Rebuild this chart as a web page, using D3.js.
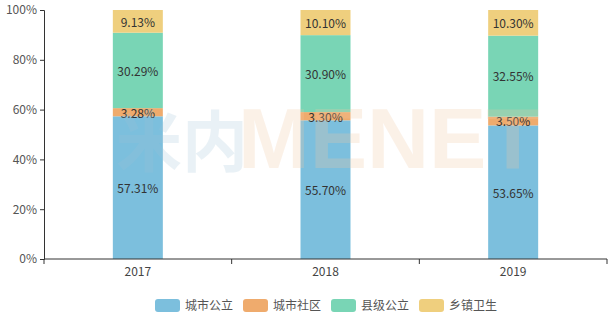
<!DOCTYPE html>
<html>
<head>
<meta charset="utf-8">
<script src="https://cdn.jsdelivr.net/npm/d3@7"></script>
<style>
  body { margin: 0; background: #fff; }
  svg text { font-family: "Noto Sans CJK SC", "Open Sans", sans-serif; }
</style>
</head>
<body>
<svg id="chart" width="615" height="319"></svg>
<script>
var years = ['2017', '2018', '2019'];
var seriesNames = ['城市公立', '城市社区', '县级公立', '乡镇卫生'];
var cityPublic = [57.31, 55.70, 53.65];
var cityCommunity = [3.28, 3.30, 3.50];
var countyPublic = [30.29, 30.90, 32.55];
var townHealth = [9.13, 10.10, 10.30];
var yTicks = [0, 20, 40, 60, 80, 100];
var colors = ['#7cbfdd', '#efab6d', '#79d5b5', '#efcf7e'];

var svg = d3.select('#chart')
  , margin = { left: 44, right: 8, top: 10, bottom: 60 }
  , width = 615 - margin.left - margin.right
  , height = 319 - margin.top - margin.bottom;

var x = d3.scaleBand().domain(years).range([0, width]);
var y = d3.scaleLinear().domain([0, 100]).range([height, 0]);

var g = svg.append('g').attr('transform', 'translate(' + margin.left + ',' + margin.top + ')');

var rows = years.map(function(yr, i) {
  return { year: yr, s0: cityPublic[i], s1: cityCommunity[i], s2: countyPublic[i], s3: townHealth[i] };
});
var stack = d3.stack().keys(['s0', 's1', 's2', 's3']);
var layers = stack(rows);
var barW = 50;

var layer = g.selectAll('g.layer')
  .data(layers)
  .enter().append('g')
    .attr('class', 'layer')
    .style('fill', function(d, i) { return colors[i]; });

layer.selectAll('rect')
  .data(function(d) { return d; })
  .enter().append('rect')
    .attr('x', function(d) { return x(d.data.year) + x.bandwidth() / 2 - barW / 2; })
    .attr('width', barW)
    .attr('y', function(d) { return y(Math.min(d[1], 100)); })
    .attr('height', function(d) { return y(d[0]) - y(Math.min(d[1], 100)); });

// watermark, drawn over the bars like in the source image
svg.append('text')
  .attr('x', 116).attr('y', 166)
  .style('font-size', '66px').style('font-weight', 'bold')
  .style('fill', '#9fc3d8').style('opacity', 0.22)
  .text('米内');
svg.append('text')
  .attr('x', 238).attr('y', 168)
  .style('font-size', '86px').style('font-weight', 'bold')
  .style('font-family', 'Liberation Sans, sans-serif')
  .style('fill', '#f3c9a4').style('opacity', 0.25)
  .text('MENET');

var labels = g.append('g');
layers.forEach(function(l) {
  labels.selectAll(null)
    .data(l)
    .enter().append('text')
      .attr('x', function(d) { return x(d.data.year) + x.bandwidth() / 2; })
      .attr('y', function(d) { return (y(d[0]) + y(Math.min(d[1], 100))) / 2 + 1; })
      .attr('dy', '0.36em')
      .attr('text-anchor', 'middle')
      .style('fill', '#333')
      .style('font-size', '12px')
      .text(function(d) { return (d[1] - d[0]).toFixed(2) + '%'; });
});

// axes
var yAxis = d3.axisLeft(y).tickValues(yTicks).tickSize(4).tickFormat(function(d) { return d + '%'; });
var ya = g.append('g').call(yAxis);
ya.select('.domain').attr('stroke', '#333');
ya.selectAll('line').attr('stroke', '#333');
ya.selectAll('text').style('font-size', '12px').style('fill', '#555').attr('x', -7);

var xa = g.append('g').attr('transform', 'translate(0,' + height + ')');
xa.append('line').attr('x1', 0).attr('x2', width).attr('stroke', '#333');
xa.selectAll('line.tick')
  .data(d3.range(years.length + 1))
  .enter().append('line')
    .attr('class', 'tick')
    .attr('x1', function(i) { return i * x.bandwidth(); })
    .attr('x2', function(i) { return i * x.bandwidth(); })
    .attr('y1', 0).attr('y2', 5)
    .attr('stroke', '#333');
xa.selectAll('text')
  .data(years)
  .enter().append('text')
    .attr('x', function(d) { return x(d) + x.bandwidth() / 2; })
    .attr('y', 17)
    .attr('text-anchor', 'middle')
    .style('font-size', '12px')
    .style('fill', '#444')
    .text(function(d) { return d; });

// legend
var legendX = [155, 243, 331, 419];
var legend = svg.append('g').selectAll('g')
  .data(seriesNames)
  .enter().append('g')
    .attr('transform', function(d, i) { return 'translate(' + legendX[i] + ',299)'; });
legend.append('rect')
  .attr('width', 25).attr('height', 13).attr('rx', 3)
  .style('fill', function(d, i) { return colors[i]; });
legend.append('text')
  .attr('x', 30).attr('y', 7).attr('dy', '0.36em')
  .style('font-size', '12px').style('fill', '#555')
  .text(function(d) { return d; });
</script>
</body>
</html>
